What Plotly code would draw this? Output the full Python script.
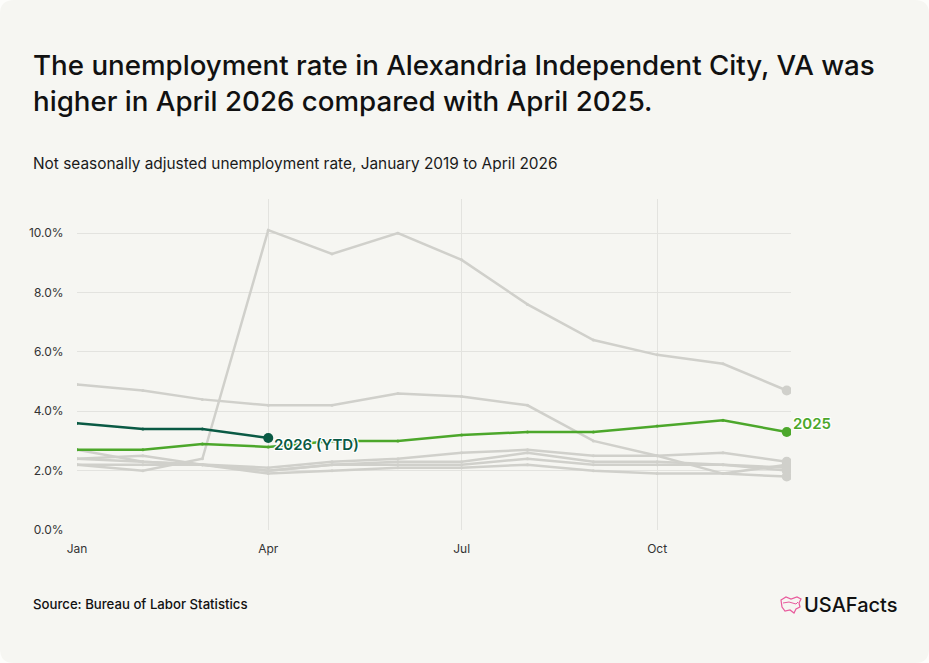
import plotly.graph_objects as go

# ---------------- data ----------------
months = ["2001-01-01", "2001-02-01", "2001-03-01", "2001-04-01", "2001-05-01", "2001-06-01",
          "2001-07-01", "2001-08-01", "2001-09-01", "2001-10-01", "2001-11-01", "2001-12-01"]
tick_vals = ["2001-01-01", "2001-04-01", "2001-07-01", "2001-10-01"]
tick_text = ["Jan", "Apr", "Jul", "Oct"]
y_ticks = [0, 2, 4, 6, 8, 10]

rate_2019 = [2.4, 2.5, 2.2, 2.0, 2.2, 2.3, 2.3, 2.6, 2.3, 2.3, 2.2, 2.0]
rate_2020 = [2.2, 2.0, 2.4, 10.1, 9.3, 10.0, 9.1, 7.6, 6.4, 5.9, 5.6, 4.7]
rate_2021 = [4.9, 4.7, 4.4, 4.2, 4.2, 4.6, 4.5, 4.2, 3.0, 2.5, 1.9, 2.2]
rate_2022 = [2.7, 2.3, 2.2, 1.9, 2.0, 2.1, 2.1, 2.2, 2.0, 1.9, 1.9, 1.8]
rate_2023 = [2.2, 2.2, 2.2, 2.0, 2.2, 2.2, 2.2, 2.4, 2.2, 2.2, 2.2, 2.1]
rate_2024 = [2.4, 2.3, 2.2, 2.1, 2.3, 2.4, 2.6, 2.7, 2.5, 2.5, 2.6, 2.3]
rate_2025 = [2.7, 2.7, 2.9, 2.8, 3.0, 3.0, 3.2, 3.3, 3.3, 3.5, 3.7, 3.3]
rate_2026 = [3.6, 3.4, 3.4, 3.1]

gray_years = [("2019", rate_2019), ("2020", rate_2020), ("2021", rate_2021),
              ("2022", rate_2022), ("2023", rate_2023), ("2024", rate_2024)]

# ---------------- styling ----------------
W, H = 929, 663
L, R, T, B = 77, 791, 199, 530  # plot area in pixels
BG = "#f6f6f2"
GRAY = "#d0d0cb"
GREEN = "#4ca72b"
DARK = "#0a5a44"
FONT = "Inter"
HALO = "1px 1px 0px #ffffff, -1px -1px 0px #ffffff, 1px -1px 0px #ffffff, -1px 1px 0px #ffffff, 0px 1px 0px #ffffff, 0px -1px 0px #ffffff, 1px 0px 0px #ffffff, -1px 0px 0px #ffffff"


def px(X):
    return (X - L) / (R - L)


def py(Y):
    return (B - Y) / (B - T)


fig = go.Figure()


def add_series(name, vals, color, width, end_size):
    xs = months[:len(vals)]
    sizes = [3] * (len(vals) - 1) + [end_size]
    fig.add_trace(go.Scatter(
        x=xs, y=vals, name=name, mode="lines+markers",
        line=dict(color=color, width=width),
        marker=dict(color=color, size=sizes, opacity=1, line=dict(width=0)),
        showlegend=False, hoverinfo="skip"))


for name, vals in gray_years:
    add_series(name, vals, GRAY, 2.5, 10)
add_series("2025", rate_2025, GREEN, 2.5, 10)
add_series("2026", rate_2026, DARK, 2.5, 10)

# rounded card background
r = 14
x0, x1, y0, y1 = px(0), px(W), py(0), py(H)
rx, ry = r / (R - L), r / (B - T)
path = (f"M {x0+rx},{y0} L {x1-rx},{y0} Q {x1},{y0} {x1},{y0-ry} "
        f"L {x1},{y1+ry} Q {x1},{y1} {x1-rx},{y1} L {x0+rx},{y1} Q {x0},{y1} {x0},{y1+ry} "
        f"L {x0},{y0-ry} Q {x0},{y0} {x0+rx},{y0} Z")
fig.add_shape(type="path", path=path, xref="paper", yref="paper",
              fillcolor=BG, line=dict(width=0), layer="below")

# USAFacts logo icon (rough map outline)
icon = [(781, 600), (786, 597), (791, 599), (797, 597), (801, 599), (799, 603),
        (800, 607), (796, 609), (794, 613), (790, 610), (785, 611), (782, 607), (781, 600)]
ipath = "M " + " L ".join(f"{px(a)},{py(b)}" for a, b in icon) + " Z"
fig.add_shape(type="path", path=ipath, xref="paper", yref="paper",
              line=dict(color="#e85a9c", width=1.2), fillcolor="rgba(0,0,0,0)")
ipath2 = "M " + " L ".join(f"{px(a)},{py(b)}" for a, b in
                           [(783, 603), (789, 602), (796, 604), (798, 602)])
fig.add_shape(type="path", path=ipath2, xref="paper", yref="paper",
              line=dict(color="#e85a9c", width=1))

annotations = [
    dict(text="The unemployment rate in Alexandria Independent City, VA was<br>higher in April 2026 compared with April 2025.",
         x=px(32), y=py(47), xanchor="left", yanchor="top", align="left",
         font=dict(family=FONT, size=27.7, color="#111111", weight=500)),
    dict(text="Not seasonally adjusted unemployment rate, January 2019 to April 2026",
         x=px(32), y=py(163), xanchor="left", yanchor="middle", align="left",
         font=dict(family=FONT, size=15.4, color="#1a1a1a")),
    dict(text="Source: Bureau of Labor Statistics",
         x=px(32), y=py(604), xanchor="left", yanchor="middle", align="left",
         font=dict(family=FONT, size=13.2, color="#111111", weight=500)),
    dict(text="USAFacts",
         x=px(898), y=py(605), xanchor="right", yanchor="middle",
         font=dict(family=FONT, size=20, color="#111111", weight=500)),
    dict(text="2026 (YTD)", x=months[3], y=rate_2026[-1], xref="x", yref="y",
         xanchor="left", yanchor="top", xshift=5, yshift=4, showarrow=False,
         font=dict(family=FONT, size=15, color=DARK, weight=600, shadow=HALO)),
    dict(text="2025", x=months[11], y=rate_2025[-1], xref="x", yref="y",
         xanchor="left", yanchor="bottom", xshift=5, yshift=-2, showarrow=False,
         font=dict(family=FONT, size=15, color=GREEN, weight=600, shadow=HALO)),
]
for a in annotations:
    a.setdefault("xref", "paper")
    a.setdefault("yref", "paper")
    a.setdefault("showarrow", False)
    a["borderpad"] = 0

fig.update_layout(
    width=W, height=H,
    margin=dict(l=L, r=W - R, t=T, b=H - B, pad=0),
    paper_bgcolor="#fdfdfb", plot_bgcolor="rgba(0,0,0,0)",
    font=dict(family=FONT, color="#333333"),
    annotations=annotations,
    xaxis=dict(type="date", range=["2001-01-01", "2001-12-03"],
               tickvals=tick_vals, ticktext=tick_text,
               showgrid=True, gridcolor="#e3e3df", gridwidth=1,
               zeroline=False, showline=False,
               ticks="outside", ticklen=8, tickcolor="rgba(0,0,0,0)",
               tickfont=dict(family=FONT, size=12, color="#333333")),
    yaxis=dict(range=[0, 11.15], tickvals=y_ticks,
               ticktext=[f"{v:.1f}%" for v in y_ticks],
               showgrid=True, gridcolor="#e3e3df", gridwidth=1,
               zeroline=False, showline=False,
               ticks="outside", ticklen=10, tickcolor="rgba(0,0,0,0)",
               tickfont=dict(family=FONT, size=12, color="#333333")),
)

fig.write_html("out.html")
